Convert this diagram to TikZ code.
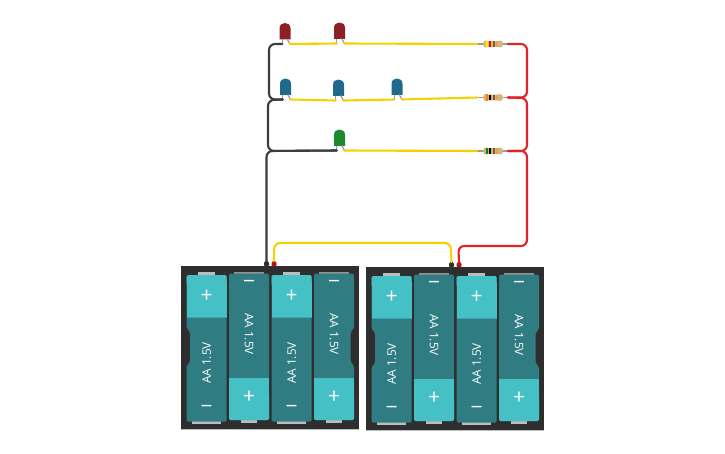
\documentclass[tikz,border=0pt]{standalone}
\usepackage{fontspec}
\setsansfont{Open Sans}
\definecolor{holder}{HTML}{2E2E2E}
\definecolor{celldark}{HTML}{2F7C83}
\definecolor{celllight}{HTML}{45C1C6}
\definecolor{cellband}{HTML}{3BA6AC}
\definecolor{tab}{HTML}{BDBDBD}
\definecolor{wirek}{HTML}{3D3D3D}
\definecolor{wirey}{HTML}{F3D200}
\definecolor{wirer}{HTML}{E2232A}
\definecolor{ledred}{HTML}{8B2025}
\definecolor{ledblue}{HTML}{1F6A8C}
\definecolor{ledgreen}{HTML}{1B8A2E}
\definecolor{legcol}{HTML}{9A9A9A}
\definecolor{rbody}{HTML}{D8B577}
\definecolor{bandbrown}{HTML}{8A5A2B}
\definecolor{termred}{HTML}{B3161C}
\tikzset{
  wire/.style={line width=2.1pt,rounded corners=6pt,line cap=round},
  blk/.style={wire,draw=wirek},
  yel/.style={wire,draw=wirey},
  rd/.style={wire,draw=wirer},
  leg/.style={draw=legcol,line width=1.2pt},
  lbl/.style={text=white,font=\sffamily\fontsize{11.8}{12}\selectfont,inner sep=0pt},
  sgn/.style={text=white,font=\sffamily\fontsize{21}{21}\selectfont,inner sep=0pt},
  % LED, origin at the top centre of the dome
  led/.pic={
    \fill[#1] (-5.5,16.3) -- (-5.5,5.5) .. controls (-5.5,1.8) and (-3,0) .. (0,0) .. controls (3,0) and (5.5,1.8) .. (5.5,5.5) -- (5.5,16.3) -- cycle;
    \draw[leg] (-2.7,16) -- (-2.7,21);
    \draw[leg] (2.2,16) -- (5,21);
    \coordinate (-c) at (-2.7,21);
    \coordinate (-a) at (5,21);
  },
  % resistor, origin at its centre
  res/.pic={
    \draw[legcol,line width=1.4pt] (-16,0) -- (15,0);
    \fill[rbody,rounded corners=1pt] (-9,-2.8) rectangle (9,2.8);
    \fill[rbody] (-7,0) ellipse (3 and 3.6);
    \fill[rbody] (7,0) ellipse (3 and 3.6);
    \fill[\bandA] (-7.4,-3.4) rectangle (-5,3.4);
    \fill[\bandB] (-3.6,-2.8) rectangle (-1.6,2.8);
    \fill[bandbrown] (-0.4,-2.8) rectangle (1.6,2.8);
    \fill[rbody!70!brown] (3,-2.8) rectangle (4.6,2.8);
    \coordinate (-l) at (-16,0);
    \coordinate (-r) at (15,0);
  },
  % battery pack of 4, origin at the holder's top left corner
  pack/.pic={
    \fill[holder] (0,0) rectangle (178,163);
    \draw[tab,line width=.6pt] (0,163.3) -- (178,163.3);
    % cell 1, + at the top
    \fill[tab] (17,6) rectangle (34,10);
    \fill[tab] (11,155) rectangle (40,158);
    \fill[celldark,rounded corners=1.5pt] (5.7,9) -- (45.7,9) -- (45.7,155.7) -- (5.7,155.7) -- (5.7,100) -- (9,96) -- (9,66) -- (5.7,62) -- cycle;
    \fill[celllight,rounded corners=1.5pt] (5.7,9) rectangle (45.7,20);
    \fill[celllight] (5.7,15) rectangle (45.7,51);
    \fill[cellband] (5.7,51) rectangle (45.7,52);
    \node[sgn] (-p1) at (25.7,30.5) {+};
    \node[lbl,rotate=90] (-t1) at (25.7,97) {AA 1.5V};
    \node[sgn] (-m1) at (25.7,143.5) {−};
    % cell 2, - at the top
    \fill[tab!70!holder] (53,6) rectangle (83,8);
    \fill[tab] (60,154) rectangle (76,157);
    \fill[celldark,rounded corners=1.5pt] (48,7.7) rectangle (88,154);
    \fill[celllight,rounded corners=1.5pt] (48,130) rectangle (88,154);
    \fill[celllight] (48,111.7) rectangle (88,140);
    \node[sgn] (-m2) at (68,18.5) {−};
    \node[lbl,rotate=-90] (-t2) at (68,68) {AA 1.5V};
    \node[sgn] (-p2) at (68,131) {+};
    % cell 3, + at the top
    \fill[tab] (102,6) rectangle (119,10);
    \fill[tab] (96,155) rectangle (125,158);
    \fill[celldark,rounded corners=1.5pt] (90.7,9) rectangle (130.7,155.7);
    \fill[celllight,rounded corners=1.5pt] (90.7,9) rectangle (130.7,20);
    \fill[celllight] (90.7,15) rectangle (130.7,51);
    \fill[cellband] (90.7,51) rectangle (130.7,52);
    \node[sgn] (-p3) at (110.7,30.5) {+};
    \node[lbl,rotate=90] (-t3) at (110.7,97) {AA 1.5V};
    \node[sgn] (-m3) at (110.7,143.5) {−};
    % cell 4, - at the top
    \fill[tab!70!holder] (138,6) rectangle (168,8);
    \fill[tab] (145,154) rectangle (161,157);
    \fill[celldark,rounded corners=1.5pt] (133,7.7) -- (173,7.7) -- (173,62) -- (169.7,66) -- (169.7,96) -- (173,100) -- (173,154) -- (133,154) -- cycle;
    \fill[celllight,rounded corners=1.5pt] (133,130) rectangle (173,154);
    \fill[celllight] (133,111.7) rectangle (173,140);
    \node[sgn] (-m4) at (153,18.5) {−};
    \node[lbl,rotate=-90] (-t4) at (153,68) {AA 1.5V};
    \node[sgn] (-p4) at (153,131) {+};
    % terminals
    \fill[holder,rounded corners=.8pt] (83,0) -- (83,-3.5) -- (85.5,-6) -- (88,-3.5) -- (88,0) -- cycle;
    \fill[termred,rounded corners=.8pt] (90.5,0) -- (90.5,-3.5) -- (93,-6) -- (95.5,-3.5) -- (95.5,0) -- cycle;
    \coordinate (-neg) at (85.5,-5);
    \coordinate (-pos) at (93,-5);
  }
}
\begin{document}
\begin{tikzpicture}[x=1pt,y=-1pt]
\useasboundingbox (0,0) rectangle (725,453);
\fill[white] (0,0) rectangle (725,453);

\pic (b1) at (181,266) {pack};
\pic (b2) at (366,267) {pack};

\pic (l1) at (285,23) {led=ledred};
\pic (l2) at (339.5,22.5) {led=ledred};
\pic (l3) at (285.5,78.5) {led=ledblue};
\pic (l4) at (338.5,79.5) {led=ledblue};
\pic (l5) at (397,78.5) {led=ledblue};
\pic (l6) at (339.5,129.5) {led=ledgreen};

\def\bandA{yellow}\def\bandB{red}
\pic (r1) at (493,44) {res};
\def\bandA{orange}\def\bandB{black}
\pic (r2) at (493,97.5) {res};
\def\bandA{green!55!black}\def\bandB{black}
\pic (r3) at (493,151) {res};

% corners of the wires
\coordinate (k1) at (269,44);
\coordinate (k2) at (269,99.5);
\coordinate (k3) at (268,100);
\coordinate (k4) at (268,151);
\coordinate (k5) at (266.5,151);
\coordinate (q1) at (527,44);
\coordinate (q2) at (527,97.5);
\coordinate (q3) at (527,98);
\coordinate (q4) at (527,151);
\coordinate (q5) at (527,246);
\coordinate (q6) at (458.3,246);
\coordinate (y1) at (274.3,243);
\coordinate (y2) at (450.7,243);

% black
\draw[blk] (l1-c) -- (k1) -- (k2) -- (l3-c);
\draw[blk] (l3-c) -- (k3) -- (k4) -- (l6-c);
\draw[blk] (l6-c) -- (k5) -- (b1-neg);
% yellow
\draw[yel] (l1-a) -- (l2-c);
\draw[yel] (l2-a) -- (r1-l);
\draw[yel] (l3-a) -- (l4-c);
\draw[yel] (l4-a) -- (l5-c);
\draw[yel] (l5-a) -- (r2-l);
\draw[yel] (l6-a) -- (r3-l);
\draw[yel] (b1-pos) -- (y1) -- (y2) -- (b2-neg);
% red
\draw[rd] (r1-r) -- (q1) -- (q2) -- (r2-r);
\draw[rd] (r2-r) -- (q3) -- (q4) -- (r3-r);
\draw[rd] (r3-r) -- (q4) -- (q5) -- (q6) -- (b2-pos);
\end{tikzpicture}
\end{document}
